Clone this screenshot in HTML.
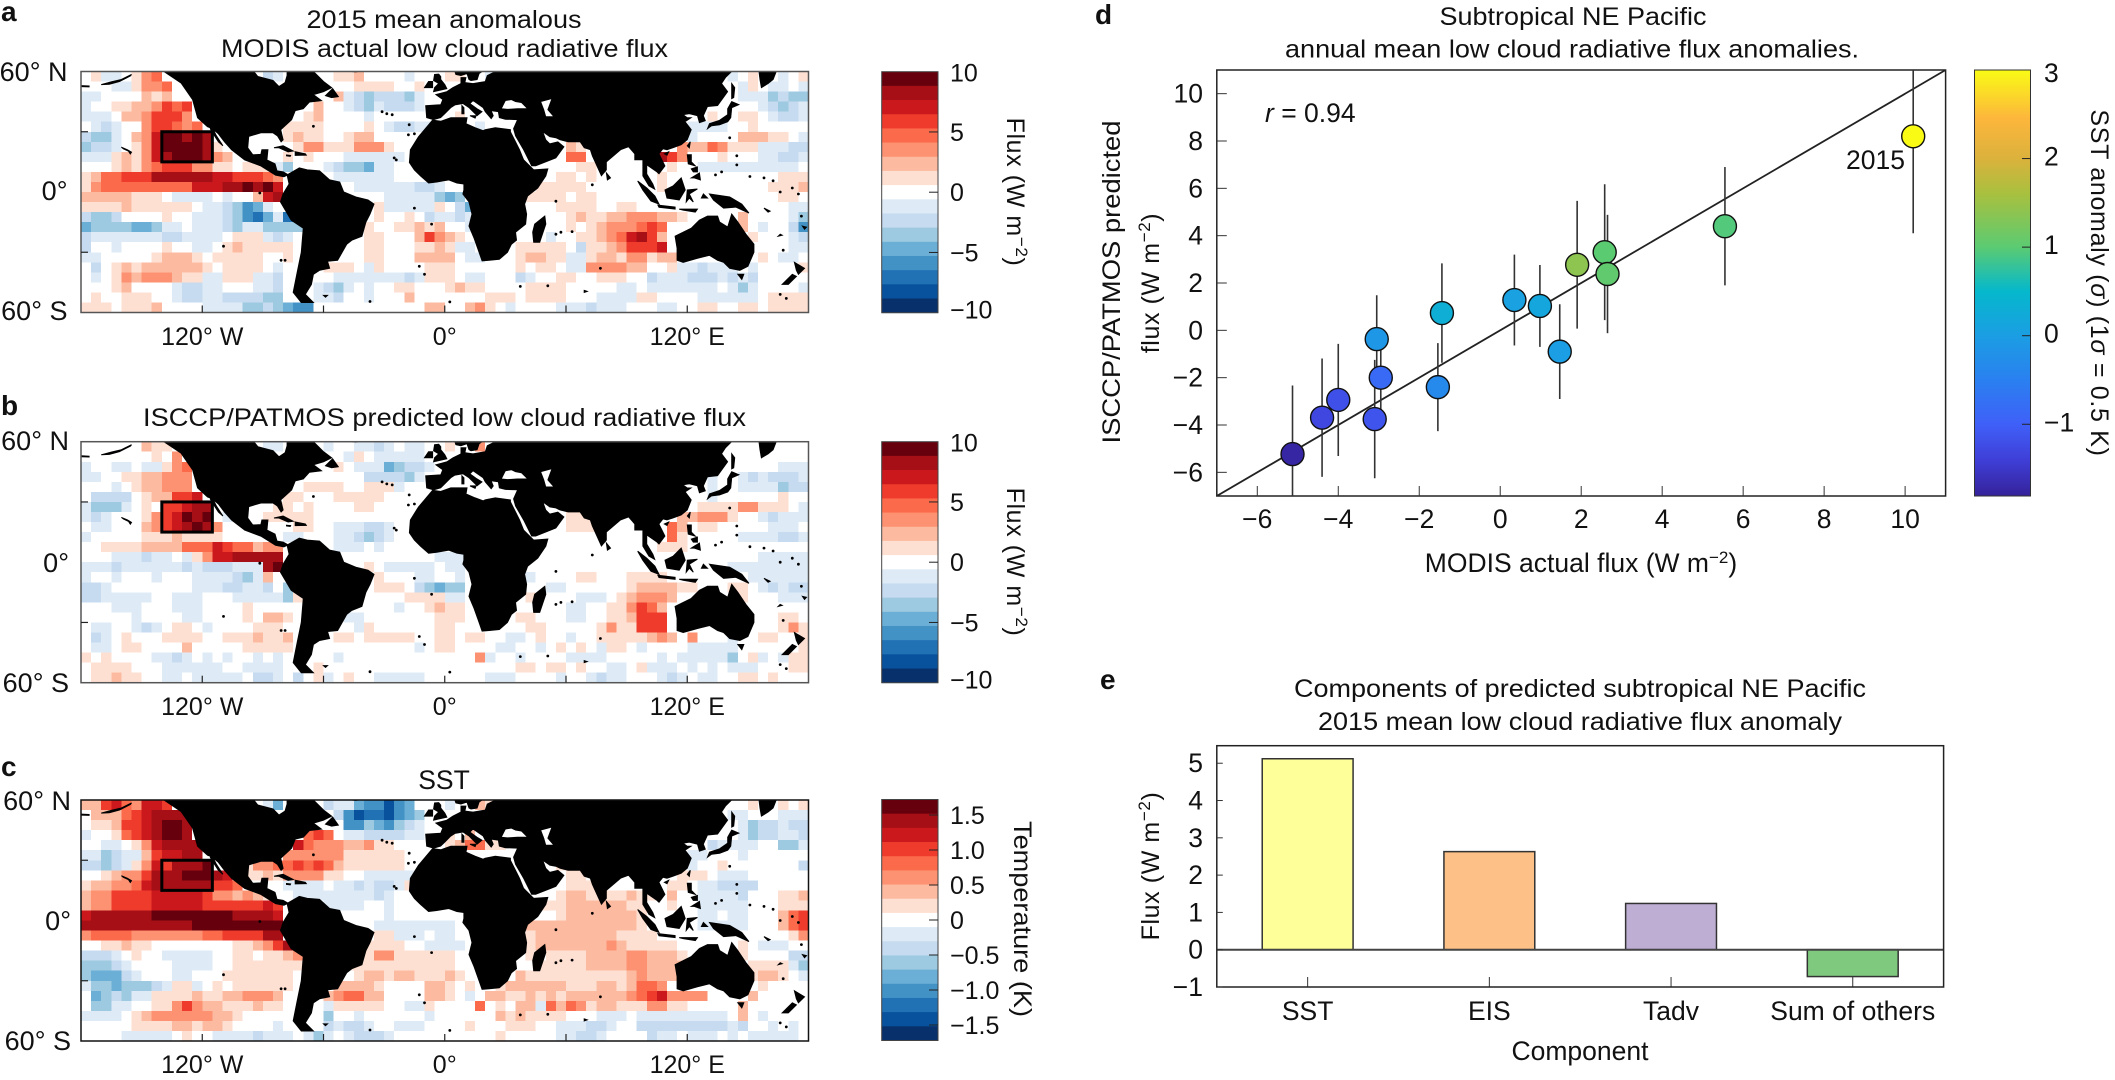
<!DOCTYPE html>
<html lang="en">
<head>
<meta charset="utf-8">
<title>Low cloud radiative flux anomalies</title>
<style>
html,body{margin:0;padding:0;background:#fff;width:2115px;height:1080px;overflow:hidden}
svg{display:block;font-family:"Liberation Sans",sans-serif;fill:#111}
text{font-size:25px}
text.big{font-size:26.5px}
text.lat{font-size:27px}
text.panel{font-weight:bold;font-size:28px}
</style>
</head>
<body>
<svg id="figure" width="2115" height="1080" viewBox="0 0 2115 1080" xmlns="http://www.w3.org/2000/svg">
<defs>
<clipPath id="clip-d"><rect x="1216.8" y="70" width="728.8" height="426"/></clipPath>
<clipPath id="clip-a"><rect x="81" y="71.5" width="727.5" height="241"/></clipPath>
<clipPath id="clip-b"><rect x="81" y="441.7" width="727.5" height="241"/></clipPath>
<clipPath id="clip-c"><rect x="81" y="800" width="727.5" height="241"/></clipPath>
<linearGradient id="parula-gradient" x1="0" y1="1" x2="0" y2="0"></linearGradient>
</defs>

<text class="panel" x="1" y="21">a</text>
<text class="panel" x="1" y="415">b</text>
<text class="panel" x="1" y="776">c</text>
<text class="panel" x="1095" y="24">d</text>
<text class="panel" x="1100" y="689">e</text>

<text x="444" y="28" text-anchor="middle" textLength="275" lengthAdjust="spacingAndGlyphs">2015 mean anomalous</text>
<text x="444.5" y="57" text-anchor="middle" textLength="447" lengthAdjust="spacingAndGlyphs">MODIS actual low cloud radiative flux</text>
<text x="444.5" y="426" text-anchor="middle" textLength="603" lengthAdjust="spacingAndGlyphs">ISCCP/PATMOS predicted low cloud radiative flux</text>
<text class="big" x="444" y="789" text-anchor="middle">SST</text>

<text transform="translate(1007,192) rotate(90)" text-anchor="middle" letter-spacing="0.6">Flux (W m<tspan dy="-9" font-size="17">−2</tspan><tspan dy="9">)</tspan></text>
<text transform="translate(1007,562) rotate(90)" text-anchor="middle" letter-spacing="0.6">Flux (W m<tspan dy="-9" font-size="17">−2</tspan><tspan dy="9">)</tspan></text>
<text transform="translate(1014,919) rotate(90)" text-anchor="middle" textLength="196" lengthAdjust="spacingAndGlyphs">Temperature (K)</text>

<text x="1573" y="25" text-anchor="middle" textLength="267" lengthAdjust="spacingAndGlyphs">Subtropical NE Pacific</text>
<text x="1572" y="57.5" text-anchor="middle" textLength="574" lengthAdjust="spacingAndGlyphs">annual mean low cloud radiative flux anomalies.</text>
<text transform="translate(1120,282) rotate(-90)" text-anchor="middle" textLength="323" lengthAdjust="spacingAndGlyphs">ISCCP/PATMOS predicted</text>
<text transform="translate(1159,283) rotate(-90)" text-anchor="middle" letter-spacing="0.6">flux (W m<tspan dy="-9" font-size="17">−2</tspan><tspan dy="9">)</tspan></text>
<text class="big" x="1581" y="572" text-anchor="middle">MODIS actual flux (W m<tspan dy="-9" font-size="17">−2</tspan><tspan dy="9">)</tspan></text>
<text class="big" x="1265" y="122"><tspan font-style="italic">r</tspan> = 0.94</text>
<text transform="translate(2091,283) rotate(90)" text-anchor="middle" letter-spacing="0.7">SST anomaly (<tspan font-style="italic">σ</tspan>) (1<tspan font-style="italic">σ</tspan> = 0.5 K)</text>

<text x="1580" y="697" text-anchor="middle" textLength="572" lengthAdjust="spacingAndGlyphs">Components of predicted subtropical NE Pacific</text>
<text x="1580" y="730" text-anchor="middle" textLength="524" lengthAdjust="spacingAndGlyphs">2015 mean low cloud radiative flux anomaly</text>
<text transform="translate(1159,866) rotate(-90)" text-anchor="middle" letter-spacing="0.6">Flux (W m<tspan dy="-9" font-size="17">−2</tspan><tspan dy="9">)</tspan></text>
<text class="big" x="1580" y="1060" text-anchor="middle">Component</text>
</svg>

<script>
// ---- Map cell values, as colour-band levels (-8 .. 8), 24 rows x 72 columns
const fluxActual = [
[0,1,-1,-1,0,1, 3,4,0,0,0,0, 0,0,0,0,0,0, -2,-1,0,0,0,0, 0,1,1,2,0,0, 0,0,-1,0,0,0, 1,1,0,0,-1,0, 0,0,0,0,0,0, 0,0,0,0,0,0, 0,0,0,0,0,0, 0,0,0,0,-1,0, 1,0,0,-1,0,1],
[0,0,0,-1,-1,1, 3,3,4,0,0,0, 0,0,0,0,0,0, 0,0,0,0,0,0, 0,0,0,1,1,1, 1,0,0,1,0,0, 0,0,0,0,0,0, 0,0,0,0,0,0, 0,0,0,0,0,0, 0,0,0,0,0,0, 0,0,0,0,0,-1, 1,0,-1,-1,0,-1],
[-1,-1,0,0,0,0, 2,1,2,0,0,0, 0,0,0,0,0,0, 0,0,0,0,0,0, 0,2,-1,-2,-3,-2, -2,-2,-3,-1,0,0, 0,0,0,0,0,0, 0,0,0,0,0,0, 0,0,0,0,0,0, 0,0,0,0,0,0, 0,0,0,0,0,-1, -1,-1,-3,-2,-3,-3],
[-1,0,0,1,1,2, 2,3,5,4,5,0, 0,0,0,0,0,0, 0,0,0,0,0,2, 0,0,-1,-2,-3,-1, -2,-2,-2,-1,0,0, 0,0,0,0,0,0, 0,0,0,0,0,0, 0,0,0,0,0,0, 0,0,0,0,0,0, 0,0,0,0,0,0, 0,-1,-2,-3,-2,-1],
[-1,-1,-1,0,2,2, 3,5,5,5,3,0, 0,0,0,0,0,0, 0,0,0,0,1,2, 0,0,0,0,-1,0, 0,0,0,0,0,0, 0,1,0,0,0,0, 0,0,0,0,0,0, 0,0,0,0,0,0, 0,0,0,0,0,0, 0,0,1,0,0,1, 1,0,-1,-2,-2,-1],
[0,-1,-2,-1,0,0, 3,5,5,4,3,4, 0,0,0,0,0,0, 0,0,1,1,1,1, 0,0,0,0,1,0, -1,-2,-2,-1,-1,0, 0,0,0,-1,0,0, 0,0,0,0,0,0, 0,0,0,0,0,0, 0,0,0,0,0,0, -1,-1,-1,-1,0,0, 1,0,0,0,0,0],
[-2,-3,-3,-1,0,2, 3,6,8,8,7,8, 7,0,0,0,0,0, 0,0,1,2,1,1, 0,0,1,2,2,0, 0,0,0,0,0,0, 0,0,0,0,0,0, 0,0,0,0,0,0, 0,0,0,0,0,0, 0,0,0,0,0,0, -1,0,0,0,0,2, 2,2,1,1,0,-1],
[-3,-2,-2,-1,0,1, 3,6,8,8,8,8, 7,1,0,0,0,0, 0,0,0,1,3,3, 1,1,1,3,3,3, 1,0,0,0,0,0, 0,0,0,0,0,0, 0,0,0,0,0,0, 2,1,0,0,0,0, 0,0,0,0,0,3, 2,2,4,3,1,1, 1,-1,-1,-1,-2,-2],
[-1,-1,-1,1,2,1, 3,6,7,8,8,8, 7,3,2,0,0,0, 0,0,1,0,1,0, 0,0,-1,-1,-1,-1, -1,-1,0,0,0,0, 0,0,0,0,0,0, 0,0,0,0,0,0, 4,4,0,0,0,0, 0,0,0,7,5,3, 0,0,0,1,0,0, 0,-1,-1,-2,-2,-1],
[0,0,0,1,2,1, 3,4,5,5,5,3, 3,1,1,0,1,1, 1,-1,-3,0,0,0, -1,-2,-3,-3,-4,-1, -1,0,0,0,0,0, 0,0,0,0,0,0, 0,0,0,0,0,0, 0,1,1,0,0,0, 0,0,0,0,1,0, 0,-1,-1,-1,-1,-1, -1,-1,-1,-1,-1,0],
[1,2,4,4,5,5, 5,7,7,7,7,7, 7,6,6,5,5,5, 4,3,0,0,0,0, 0,-1,-1,-1,-1,-1, -1,0,0,0,0,0, 0,0,0,0,0,0, 0,0,0,0,0,1, 1,0,1,0,0,0, 0,0,0,1,0,0, 0,0,0,0,0,0, 0,0,0,1,1,1],
[1,3,4,4,4,4, 4,4,4,4,4,6, 6,6,7,7,8,7, 8,6,0,0,0,0, 0,0,0,-1,-1,-1, -1,-1,-1,-2,-2,-1, 0,0,0,0,0,0, 0,0,0,1,1,1, 1,1,0,0,0,0, 0,0,0,1,0,0, 0,0,0,0,0,0, 0,0,1,1,1,2],
[2,2,2,2,2,1, 1,1,0,-1,-1,-1, -1,0,-1,0,0,2, 6,7,0,0,0,0, 0,0,0,0,0,0, -1,-1,-1,-1,-1,-3, -4,-3,0,0,0,0, 0,-1,1,1,1,1, 0,1,1,0,0,0, 0,0,0,0,0,0, 0,0,0,0,0,0, 0,0,0,1,1,0],
[1,1,1,1,2,1, 1,1,1,1,1,0, -1,-1,-2,-3,-5,-4, -1,0,0,0,0,0, 0,0,0,0,0,1, -1,-1,-1,-1,-1,1, 0,-2,-4,0,0,0, 0,0,0,0,0,1, 1,1,1,0,0,1, 1,0,0,0,0,0, 0,0,0,0,0,0, 0,0,0,0,-1,-1],
[-2,-3,-3,-2,0,0, 0,0,1,0,0,-1, -1,-1,-2,-3,-5,-6, -4,-1,-6,0,0,0, 0,0,0,0,0,1, 0,0,1,0,-2,-1, -1,-2,-1,0,0,0, 0,0,0,0,0,0, 1,2,1,1,2,2, 3,3,3,2,2,1, 0,0,0,0,0,2, 0,0,0,0,-1,-3],
[-4,-3,-3,-3,-3,-4, -4,-3,-1,-1,0,-1, -1,-1,-2,-3,-1,-1, -3,-3,-3,-3,0,0, 0,0,0,0,1,0, 0,1,1,2,1,2, 0,0,-1,0,0,0, 0,0,0,0,0,0, 1,0,1,2,3,3, 3,4,5,4,0,0, 0,0,0,0,0,2, 0,-1,0,0,-2,-5],
[-2,-1,-1,-1,-1,-1, -1,-1,-2,-2,-1,-1, -1,-1,0,1,1,1, -1,-2,-1,0,0,0, 0,0,0,0,1,1, 0,0,0,2,5,3, 2,1,0,0,0,0, 0,0,0,0,-1,0, 0,1,1,2,3,4, 6,7,5,2,0,0, 0,0,0,0,0,0, 1,0,0,0,-1,-2],
[-2,0,0,-1,0,0, 0,0,1,0,0,-1, -1,0,1,2,1,1, 1,1,1,0,0,0, 0,0,0,0,1,1, 0,0,0,1,1,2, 1,-1,-1,0,0,0, 0,1,1,1,1,1, 0,-2,1,1,2,3, 5,5,5,6,0,0, 0,0,0,0,0,0, 0,0,0,0,-1,-1],
[-1,-1,0,0,0,0, 0,1,2,2,2,1, 0,1,1,1,1,1, 0,0,1,0,0,0, 0,0,0,0,1,1, 0,0,0,2,2,2, 2,0,-1,-1,0,0, 0,1,2,2,1,1, -1,-1,1,2,2,1, 3,3,1,2,2,0, 0,0,0,0,0,0, 0,1,0,-1,-1,0],
[0,-2,0,1,2,1, 2,2,2,2,2,2, 1,0,1,1,1,1, 0,-1,0,0,0,0, 1,1,1,0,-1,1, 0,0,0,0,1,1, 1,0,0,0,0,0, 0,1,0,1,1,0, -1,-1,3,3,3,3, 2,2,0,0,1,-1, -1,-2,-1,-1,-1,0, -1,0,0,0,0,1],
[0,-1,0,1,3,2, 3,3,3,2,1,1, -1,-1,1,1,1,-1, -1,-2,0,0,0,0, 0,-1,-1,-1,-1,-1, -1,-1,-2,-1,1,1, 1,0,-1,-1,0,0, 0,-2,-1,0,0,1, 1,0,0,1,1,1, 0,0,-2,-1,-1,-1, -2,-2,-2,-1,-2,-1, -2,0,0,0,0,0],
[0,0,0,1,2,0, 0,0,0,-1,-2,-2, -1,-1,0,0,0,-1, -1,-2,0,0,0,-1, -2,-3,-1,0,-1,0, 0,1,1,0,0,0, 1,2,1,1,0,0, 0,0,1,1,1,1, 0,0,0,0,0,-1, -1,0,-1,-1,-1,-1, -1,-1,-1,0,-1,-3, -1,0,0,0,0,-1],
[0,1,0,0,1,1, 1,0,0,-1,-2,-2, -1,-1,-2,-2,-2,-2, -3,-3,0,0,0,-1, -1,-2,0,0,-1,0, 0,0,2,0,0,0, 0,0,0,0,1,1, 1,0,1,1,1,1, 0,0,0,-1,-1,-1, -1,1,1,0,0,0, 0,-1,-1,-1,-1,-1, -1,0,1,1,1,1],
[1,1,1,0,1,1, 1,2,0,0,0,0, -1,-1,-1,-1,-3,-3, -2,-3,-4,-5,-5,0, 0,0,0,0,0,0, 0,0,0,0,2,2, 0,0,2,3,1,0, -1,0,0,0,0,-1, -1,-1,-2,-1,-1,-1, 0,0,0,-1,-1,0, 0,1,1,0,0,1, 1,0,1,1,1,1]
];
const fluxPredicted = [
[0,0,0,0,0,0, 2,1,1,0,0,0, 0,0,0,0,0,0, -1,-1,0,0,0,0, -1,0,0,-1,-1,-2, -1,0,-1,-1,0,0, 1,0,0,3,0,0, 0,0,0,0,0,0, 0,0,0,0,0,0, 0,0,0,0,0,0, 0,0,0,0,0,0, 0,0,0,0,0,0],
[0,0,0,0,0,0, 0,1,0,3,0,0, 0,0,0,0,0,0, 0,0,0,0,0,0, 0,0,-1,1,0,-1, -1,-1,-1,-1,0,0, 0,0,0,0,0,0, 0,0,0,0,0,0, 0,0,0,0,0,0, 0,0,0,0,0,0, 0,0,0,0,0,0, 0,0,0,0,0,0],
[-1,0,0,-1,-1,0, -1,-1,1,3,4,0, 0,0,0,0,0,0, 0,0,0,0,0,0, 0,1,0,-1,-1,-1, -4,-3,-2,-2,-1,0, 0,0,0,0,0,0, 0,0,0,0,0,0, 0,0,0,0,0,0, 0,0,0,0,0,0, 0,0,0,0,0,0, 0,0,0,-1,-1,-1],
[-1,-1,0,0,1,1, 2,2,3,3,3,0, 0,0,0,0,0,0, 0,0,0,0,0,0, 0,0,0,0,-2,-2, -2,-2,-3,-1,0,0, 0,0,0,0,0,0, 0,0,0,0,0,0, 0,0,0,0,0,0, 0,0,0,0,0,0, 0,0,-1,0,0,-1, -2,-1,-2,-2,-2,-1],
[0,0,0,-1,0,1, 2,2,3,3,3,0, 0,0,0,0,0,0, 0,0,0,0,1,1, 1,1,0,0,1,1, 1,-1,0,0,0,0, 0,0,0,0,0,0, 0,0,0,0,0,0, 0,0,0,0,0,0, 0,0,0,0,0,0, 0,0,-1,0,0,-1, -1,-1,-1,-3,-2,-2],
[0,-2,-2,-2,-2,0, 1,2,2,5,5,6, 0,0,0,0,0,0, 0,0,1,1,0,0, 0,1,1,1,1,1, 0,0,0,0,0,0, 0,0,0,0,0,0, 0,0,0,0,0,0, 0,0,0,0,0,0, 0,0,0,0,0,0, 0,0,-1,0,0,0, 0,0,0,1,0,0],
[-1,-3,-3,-3,-1,0, 1,0,5,5,6,7, 7,0,0,0,0,0, 0,1,1,0,1,0, 0,0,0,1,1,0, 0,0,0,0,0,0, 0,0,0,0,0,0, 0,0,0,0,0,0, 0,0,0,0,0,0, 0,0,0,0,0,0, 0,1,1,1,1,3, 3,1,1,1,0,-1],
[-1,-2,-1,0,0,0, 1,3,5,6,8,7, 8,0,-1,0,0,0, 1,1,1,1,1,0, 0,0,0,0,0,0, 0,0,0,0,0,0, 0,0,0,0,0,0, 0,0,0,0,0,0, 1,1,1,0,0,0, 0,0,0,0,0,2, 2,3,3,3,1,0, 0,-1,-2,-1,-1,-1],
[0,-1,-1,0,0,0, 2,3,5,6,7,8, 7,3,0,0,0,0, 0,0,0,1,1,0, 0,-1,-1,-1,-2,-2, -1,0,0,0,0,0, 0,0,0,0,0,0, 0,0,0,0,0,0, 1,1,1,0,0,0, 0,0,0,0,4,2, 0,1,1,0,0,0, 0,0,-1,-1,-1,0],
[-1,0,0,0,0,0, 1,1,1,2,1,1, 1,1,0,0,0,0, 0,0,-1,-1,0,0, 0,-1,-1,-2,-3,-2, -1,0,0,0,0,0, 0,0,0,0,0,0, 0,0,0,0,0,0, 0,0,0,0,0,0, 0,0,0,0,4,1, 0,0,0,0,0,-1, -1,-1,-1,-2,-2,-1],
[0,0,1,1,1,1, 2,2,2,2,4,4, 4,6,5,4,4,2, 3,3,0,0,0,0, 0,-1,-1,-1,0,-1, 0,0,0,0,0,0, 0,0,0,0,0,0, 0,0,0,0,0,0, 0,0,0,0,0,0, 0,0,0,1,1,1, 0,0,0,0,0,0, 0,0,0,0,0,0],
[0,0,0,-1,-1,-1, -2,-1,-1,0,-1,1, 3,6,6,7,7,7, 7,7,0,0,0,0, 0,0,0,0,0,0, 0,0,0,0,0,-1, -1,-1,0,0,0,0, 0,0,0,0,0,0, 0,0,0,0,0,0, 0,0,0,0,0,0, 0,0,0,0,0,0, 0,-1,-1,-1,-1,-1],
[-1,-1,-1,-2,-1,-1, -1,-1,-1,-1,-2,-1, -2,-2,-2,-1,-1,-1, 7,8,0,0,0,0, 0,0,0,0,1,0, -1,-1,-1,-1,-1,0, -1,-1,0,0,0,0, 0,0,0,0,0,0, 0,0,0,0,0,0, 0,0,0,0,0,0, 0,0,0,0,-1,-1, -1,-1,-1,-1,-1,-1],
[-1,0,0,-1,0,0, 0,-1,0,0,0,-1, -1,-1,-1,-2,-3,-1, 2,0,0,0,0,0, 0,0,0,0,0,1, 0,0,0,-1,-1,0, 0,-1,0,0,0,0, 0,0,-1,0,0,0, 0,1,1,0,0,0, 1,1,1,1,0,0, 0,0,0,0,0,0, -1,-1,-1,-1,-1,-1],
[-2,-2,-1,0,0,0, 0,0,0,0,0,-1, -1,-1,-2,-2,-1,-1, -2,0,-3,0,0,0, 0,0,0,0,0,1, 1,1,0,-2,-3,-4, -3,-3,0,0,0,0, 0,0,0,0,-1,-1, 0,0,0,0,0,0, 1,2,2,2,2,1, 1,0,0,0,1,1, 0,-1,-2,-1,-2,-2],
[-2,-2,-1,-1,-1,-1, -1,0,0,-1,-1,-1, 0,0,0,-1,-1,-1, -1,-1,-3,1,0,0, 0,0,0,0,0,0, 0,0,1,1,1,1, -1,-1,0,0,0,0, 0,0,1,0,0,0, 0,-1,-1,-1,0,1, 2,3,3,3,2,0, 0,0,0,0,0,1, 0,0,0,-1,-1,-1],
[0,0,0,-1,-1,-1, 0,0,0,-1,-1,-1, 0,0,0,0,1,0, 0,0,0,0,0,0, 0,0,0,0,0,0, 0,-1,0,0,1,2, 1,1,0,0,0,0, 0,0,0,0,0,0, -1,-1,0,0,1,1, 3,5,4,2,0,0, 0,0,0,0,0,0, 0,0,0,0,0,0],
[0,0,0,0,0,-1, 0,0,0,0,-1,-1, 0,0,0,0,1,0, 2,2,1,0,0,0, 0,0,-1,-1,0,0, 0,0,0,0,0,1, 1,1,0,0,0,0, 0,1,1,0,0,0, -1,-1,0,0,1,1, 2,5,5,5,0,0, 0,0,0,0,0,0, 0,0,0,1,1,0],
[0,-1,-1,0,0,-1, -2,-1,0,1,1,0, -1,0,0,0,0,1, 1,1,0,0,0,0, 0,0,0,-1,1,0, 0,0,0,0,0,1, 1,0,0,0,0,0, 0,0,1,1,0,0, 0,0,0,1,3,1, 1,5,5,5,0,0, 0,0,0,0,0,0, 0,0,0,1,3,1],
[0,-2,-1,0,1,0, 0,0,1,1,1,1, 0,0,1,1,1,2, 1,1,2,0,0,0, 0,1,1,0,1,1, 1,1,1,0,0,1, 1,0,1,1,0,0, -1,-1,0,1,0,0, -1,0,0,1,1,1, 1,1,2,3,2,0, 3,0,0,0,-1,0, 0,1,1,0,0,1],
[0,-1,-1,0,1,1, 0,0,0,0,2,0, 0,0,0,0,1,1, 1,1,1,0,0,0, 0,0,0,0,0,0, 0,0,0,-1,0,1, 1,0,0,0,0,-1, -1,0,0,-1,0,1, 0,1,0,-1,1,1, 0,-1,0,0,0,0, -1,-1,-1,-1,-1,0, 0,0,0,0,0,1],
[1,0,1,0,0,0, 0,-1,-1,-2,-1,0, -1,0,-1,0,0,-1, 0,-1,0,0,0,0, 0,-1,0,0,0,0, 0,0,0,0,0,0, 0,0,0,3,-1,0, 0,-1,0,0,0,0, -1,-1,-1,-1,0,0, 0,0,0,-1,0,-1, -1,-1,-1,-1,-3,0, 1,-1,0,-1,1,1],
[0,1,1,1,1,0, 0,0,-1,-1,-1,-1, -1,-1,0,0,-1,-1, -1,-1,0,0,0,1, 0,0,0,0,0,0, 0,0,0,0,0,0, 0,0,0,0,0,0, 0,1,1,0,1,1, 0,1,0,0,-1,-1, 0,1,-1,-1,-1,0, -1,0,-1,0,-1,-1, -1,0,0,0,1,1],
[0,1,1,2,1,1, 0,0,-1,-1,0,-1, -1,-1,-1,-1,0,-2, -2,-1,0,-2,0,1, -1,0,1,0,0,-1, -1,-1,-1,-1,0,0, 0,0,0,0,-1,-1, -1,0,0,0,0,-1, 0,0,-1,-2,-1,-1, 0,0,0,-1,-2,-1, 0,-1,-1,0,0,1, 1,0,1,0,0,0]
];
const sstAnomaly = [
[2,2,5,6,4,3, 6,6,5,0,0,0, 0,0,0,0,0,0, -1,-4,0,0,0,0, -2,-1,-1,-4,-5,-5, -7,-5,-4,0,0,0, -1,0,0,2,1,0, 0,0,0,0,0,0, 0,0,0,0,0,0, 0,0,0,0,0,0, 0,0,0,0,0,0, 1,0,0,1,0,1],
[0,2,2,2,4,5, 6,7,7,7,7,0, 0,0,0,0,0,0, 0,0,0,0,0,0, 0,-2,-5,-7,-6,-6, -7,-5,-4,-3,0,0, 0,0,0,0,0,0, 0,0,0,0,0,0, 0,0,0,0,0,0, 0,0,0,0,0,0, 0,0,0,0,-1,-1, 0,0,0,-1,-1,-1],
[0,1,1,2,5,5, 6,7,8,8,7,0, 0,0,0,0,0,0, 0,0,0,0,0,0, 0,0,-5,-5,-3,-4, -5,-3,-2,-1,0,0, 0,0,0,0,0,0, 0,0,0,0,0,0, 0,0,0,0,0,0, 0,0,0,0,0,0, 0,0,0,0,0,-1, -3,-2,-2,-1,-2,-2],
[-1,0,0,1,4,5, 6,7,8,8,7,0, 0,0,0,0,0,0, 0,0,0,0,4,5, 4,0,-1,-1,-2,-2, -2,-2,-1,-1,0,0, 1,0,2,0,0,0, 0,0,0,0,0,0, 0,0,0,0,0,0, 0,0,0,0,0,0, 0,0,0,0,0,-1, -3,-2,-2,-1,-1,-2],
[0,0,-1,-1,0,1, 3,6,7,7,7,7, 0,0,0,0,0,0, 0,0,0,6,4,3, 3,3,2,2,3,1, 1,0,0,0,0,0, 1,2,4,4,1,1, 0,0,0,0,0,0, 0,0,0,0,0,0, 0,0,0,0,0,0, 0,0,-2,-1,-1,-1, -1,0,0,-3,-3,-1],
[-1,-1,-3,-2,-1,-1, 2,5,6,6,7,7, 0,0,0,0,0,0, 0,0,3,3,3,3, 3,3,1,1,1,1, 1,1,0,0,0,0, 0,0,0,0,0,0, 0,0,1,0,0,0, 0,0,0,0,0,0, 0,0,0,0,0,0, -1,-1,0,0,0,-1, 0,0,0,0,0,0],
[-2,-2,-3,-2,-1,1, 3,6,5,7,7,7, 8,0,0,0,1,3, 3,4,4,5,4,5, 4,2,1,1,1,1, 1,1,0,0,0,0, 0,0,0,0,0,0, 0,0,0,0,0,1, 0,0,0,0,0,0, 0,0,0,0,0,0, -1,0,0,1,0,0, 0,0,0,0,0,-2],
[0,0,1,2,3,3, 5,7,7,7,8,8, 8,7,6,0,1,1, 2,1,3,3,3,3, 1,1,0,0,-1,-1, -1,-1,-1,0,0,0, 0,0,0,0,0,0, 0,0,0,0,0,0, 1,1,0,0,0,0, 0,0,0,0,0,1, 1,1,0,-1,-1,-1, 0,0,0,0,0,0],
[1,2,2,3,3,4, 6,7,7,7,7,7, 7,5,5,4,0,0, 0,0,-1,-1,-1,-1, 0,-1,-1,-2,-1,-2, -2,-1,1,0,0,0, 0,0,0,0,0,0, 0,0,0,0,0,0, 1,1,1,1,0,0, 0,0,0,0,1,1, 0,-1,-1,-2,-2,-2, -2,0,0,0,0,0],
[2,3,3,5,5,5, 5,6,6,6,6,6, 5,3,3,2,3,2, 1,0,0,-1,-1,-1, -1,-1,-1,-1,-1,-2, -1,0,0,0,0,0, 0,0,0,0,0,0, 0,0,0,0,0,1, 2,2,1,1,1,1, 2,1,1,0,2,0, 0,-1,-1,-1,-1,-2, 0,0,0,1,1,2],
[2,3,3,5,5,5, 5,6,6,6,6,6, 5,5,5,5,5,5, 6,5,0,0,0,0, -1,-1,-1,-1,0,0, -1,0,0,0,0,0, 0,0,0,0,0,0, 0,0,0,1,1,1, 2,2,2,2,2,2, 1,1,0,0,1,0, 0,-1,-1,-1,-1,-1, 0,0,0,1,1,1],
[6,7,7,7,7,7, 7,8,8,8,8,8, 8,8,8,7,7,7, 7,6,0,0,0,0, 0,0,0,0,0,0, -1,0,0,0,0,0, 0,0,0,0,0,0, 0,0,0,0,0,1, 2,2,2,2,2,2, 2,1,0,0,0,0, 0,-1,-1,0,-1,-1, 0,0,0,2,4,5],
[7,7,7,7,7,7, 7,7,7,7,7,8, 8,8,8,8,8,8, 8,8,0,0,0,0, 0,0,0,0,0,-1, -1,-1,-1,-1,-1,-1, -1,0,0,0,0,0, 0,0,2,2,2,2, 2,2,2,2,2,2, 2,1,0,0,0,0, 0,-1,-1,-1,-1,-1, 0,0,0,2,4,5],
[3,4,4,4,4,3, 3,3,3,3,3,3, 4,4,5,5,5,5, 7,7,0,0,0,0, 0,0,0,0,0,1, 1,-1,-1,-1,0,-1, -1,0,0,0,0,0, 0,0,1,2,2,2, 2,2,2,2,2,1, 1,1,1,0,0,0, 0,0,0,0,0,0, 0,0,0,0,1,3],
[0,0,1,1,2,1, 1,0,0,0,0,0, 0,0,0,1,1,2, 3,5,7,0,0,0, 0,0,0,0,1,1, 1,1,0,0,-1,-1, -1,-1,0,0,0,0, 0,0,1,2,2,2, 2,2,2,2,3,2, 1,1,1,1,1,0, 0,0,0,0,0,1, 0,-1,-1,-1,0,0],
[-2,-2,-2,-1,0,1, 0,0,-1,-1,-1,-1, -1,0,0,1,1,0, 1,1,2,3,0,0, 0,0,0,0,1,3, 3,1,1,1,1,1, 1,0,0,0,0,0, 0,0,1,0,1,1, 1,1,2,2,2,2, 3,3,2,2,2,1, 0,0,0,0,0,1, 0,0,0,0,-2,-2],
[-3,-3,-3,-2,-1,0, 0,0,0,-1,-1,-1, -1,0,0,1,1,1, 1,1,1,1,0,0, 0,0,1,1,1,1, 1,1,1,1,1,1, 1,0,0,0,0,0, 0,0,0,1,1,1, 1,1,2,2,2,2, 3,3,2,2,2,2, 0,0,0,0,0,0, 1,1,1,1,-1,-3],
[-3,-4,-4,-4,-2,-1, 0,0,0,-1,-1,0, 0,0,1,1,1,1, 1,1,1,0,0,0, 0,0,0,1,2,2, 1,2,2,1,1,1, 2,1,0,0,0,0, 0,2,1,1,1,1, 1,1,1,1,1,1, 2,3,2,2,2,1, 0,0,0,0,0,0, 1,2,2,1,0,-1],
[-1,-3,-3,-4,-3,-3, -3,-2,-1,1,1,-1, 0,1,0,1,1,1, 1,1,1,0,0,0, 0,2,2,2,2,1, 0,0,0,0,2,2, 1,0,1,0,0,1, 2,2,2,2,2,2, 1,1,1,2,2,1, 2,4,4,3,0,0, 0,0,0,0,0,0, 0,1,0,0,0,0],
[0,-4,-3,-2,-3,-1, -1,1,1,1,1,2, 1,1,2,2,3,3, 3,2,0,0,0,0, 2,3,4,4,2,2, 0,0,0,0,2,2, 1,0,-1,0,2,2, 1,1,2,1,2,1, 2,2,2,2,2,2, 3,4,5,6,3,3, 3,3,0,0,0,0, 2,0,0,0,0,0],
[0,-3,-3,-1,-1,0, 0,1,1,3,5,3, 2,2,1,1,1,2, 1,1,0,0,0,0, -1,1,1,1,1,1, 0,0,-1,-1,1,0, 0,0,0,4,0,1, 0,2,2,-1,4,2, 4,3,1,2,2,1, 1,1,3,3,1,1, 0,0,0,0,0,2, 0,0,0,0,0,0],
[-1,-1,-1,-1,0,1, 2,3,3,3,3,3, 3,2,2,1,0,0, 0,0,0,0,0,0, -3,0,0,-1,0,0, 0,0,0,0,-1,0, 0,0,0,0,0,2, 1,2,1,1,1,1, 0,0,0,-1,-1,-1, 0,-1,-1,-1,-1,-1, -1,-1,-1,-1,0,2, 0,-1,0,0,0,0],
[0,0,0,0,0,1, 1,1,1,2,2,1, 2,2,1,0,0,0, 0,-1,0,0,0,0, -2,-1,-2,-2,-1,0, 0,-1,-1,-1,0,0, 0,0,1,0,0,0, 1,1,1,0,0,-1, -1,-1,-2,-2,-1,0, 0,-2,-2,-2,-2,-2, -2,-2,-2,-2,-1,-2, 0,0,-1,0,-1,0],
[0,0,0,0,-1,-1, -1,-1,-1,0,1,0, 0,-1,-1,-1,-1,-2, -1,-1,-1,0,-1,-3, -1,0,-1,-2,-2,-2, -1,0,0,0,0,0, 0,0,0,0,0,1, 0,0,0,0,0,-1, -1,-2,-2,-1,0,0, 0,0,-2,-1,-1,0, -1,-1,-1,0,-1,0, -1,-1,-1,-1,-1,0]
];

// ---- Colour bands for the maps (blue to red)
const bandColors = ["#08306b","#08519c","#2171b5","#4292c6","#6baed6","#9ecae1","#c6dbef","#deebf7","#ffffff","#fee0d2","#fcbba1","#fc9272","#fb6a4a","#ef3b2c","#cb181d","#a50f15","#67000d"];
const fluxBarTicks = [10,5,0,-5,-10];
const tempBarTicks = [1.5,1,0.5,0,-0.5,-1,-1.5];
const lonTickValues = [-120,-60,0,60,120];
const lonTickLabels = ["120° W","","0°","","120° E"];
const latTickValues = [60,30,0,-30,-60];
const latTickLabels = ["60° N","","0°","","60° S"];
const regionBox = [-140,-115,15,30];

// ---- Geography, in degrees
const landOutlines = [
 [[-139,60],[-130.5,54.3],[-124.8,46],[-122.3,37],[-117.4,32.5],[-114.8,31.5],[-113,28],[-109.8,23],[-112,25],[-114.6,29],[-116,31.5],[-115.5,32],[-112,29],[-109,25],[-105.5,21],[-99,16],[-91,13],[-83.7,8.4],[-79.6,7.6],[-77.5,8.6],[-80,10],[-83,10.5],[-84,14],[-88,16],[-87.5,21],[-90.5,21],[-91,18.7],[-95,18.5],[-97.5,22],[-97,27.7],[-91,29.5],[-85,29.5],[-82.8,28],[-81,25],[-80,26],[-81.2,31],[-75.8,36],[-74,40.5],[-70,41.5],[-67,44.8],[-61,45.5],[-65,48.5],[-60,50],[-56,52],[-60,55],[-65,60],[-78,60],[-78,58],[-79,54.5],[-82,52.5],[-85,55.5],[-92.5,57.5],[-94.5,60]],
 [[-55.5,51.5],[-52.7,47.5],[-56,47],[-59,48]],
 [[-43,60],[-46,60],[-44,59.8]],
 [[-84.5,22],[-80,23],[-75,20.4],[-77.5,20],[-82,22]],
 [[-74,20],[-69,19],[-68.5,18.3],[-74,18.2]],
 [[-78.3,18.4],[-76.3,18.2],[-76.5,17.8],[-78.3,18]],
 [[-78,8.5],[-72,12],[-68,11],[-62,10.5],[-57,6],[-52,5],[-50,0],[-44,-2.5],[-38,-4],[-35,-6],[-37,-11],[-39,-15],[-41,-22],[-46,-24],[-48.5,-26],[-53,-34],[-58,-34.5],[-57,-38],[-62,-39],[-65,-41],[-66,-46],[-69,-51],[-65,-55],[-71,-55],[-75,-50],[-73,-40],[-71,-30],[-70,-18],[-76,-14],[-81.3,-5],[-80,-1],[-77,4]],
 [[-6,35.8],[-10,31],[-13,27.5],[-17,21],[-17.5,14.7],[-15,11],[-12,8],[-8,4.5],[-4,5],[2,6],[6,4.5],[9.5,4],[9.5,1],[9,-1],[12,-5],[13.5,-11],[12,-17],[14.5,-23],[17,-30],[18.5,-34.3],[22,-34],[27,-33.5],[31,-30],[33,-26],[35.5,-24],[35,-20],[40,-16],[40.5,-11],[39.5,-6],[41,-2],[46,2],[50,8],[51,11.5],[44,11],[43,12],[39,16],[37,21],[35,25],[32.5,30],[32.5,31],[25,32],[20,31],[19,30.5],[15,32],[10.5,34],[11,37],[3,37],[-2,35.2]],
 [[49.5,-12],[50,-16],[47,-25],[44,-25],[43.5,-20],[44.5,-16]],
 [[5,60],[5.5,58.5],[8,58],[11,59],[12,56],[13,55.5],[16,56],[17,59],[18.5,60]],
 [[-5.5,50],[1,51.5],[0,53.5],[-2,56],[-2,57.5],[-3,58.7],[-5,58.5],[-5.5,55.5],[-3,54],[-5,52]],
 [[-10,52],[-6,52],[-6,55],[-8,55]],
 [[8.5,43],[9.5,42],[9.5,39],[8.5,39]],
 [[12.5,38],[15.5,38],[15,36.8]],
 [[130,31.5],[131,34],[136,35.7],[140,38.5],[140,41.5],[142,45],[145.5,43.5],[142,42],[141.5,37],[140,35],[136,33.5],[132,33]],
 [[142,54],[143.5,52],[143,47],[142,46.5],[142,50]],
 [[155.5,60],[156,56],[156.7,52],[160,54],[162.5,56],[164,60]],
 [[95.5,5.5],[100,2],[104,-2],[106,-6],[102,-4.5],[98,1]],
 [[105.5,-6.5],[114,-7.5],[114,-8.5],[106,-7.6]],
 [[109,1],[113,3],[117,7],[119,1],[116,-4],[110,-3]],
 [[119.5,-5],[120,1],[125,1.5],[121,-1],[123,-5],[121,-3]],
 [[131,-1],[141,-2.5],[147,-6],[150.5,-10.5],[144,-7.5],[138,-8],[133,-4]],
 [[120,18.5],[122,18.5],[122,15],[124,13],[120.5,14]],
 [[122,7],[126,9.5],[126.5,6],[123.5,7]],
 [[122,11.5],[125,12.5],[125,10],[123,10]],
 [[120,23],[121.5,25],[121,22]],
 [[108.7,19],[110.8,20],[110,18.3]],
 [[80,9.5],[82,7],[80.5,6]],
 [[116,-8.5],[125,-8.5],[124,-10],[118,-9]],
 [[127,-3],[130,-3],[128,-1]],
 [[114,-22],[122,-18],[126,-14],[130,-12],[135,-12],[136,-15],[140,-17.5],[142,-11],[145,-15],[149,-21],[153,-26],[153,-30],[150,-37],[146,-39],[141,-38],[138,-35],[135,-34],[131,-31.5],[125,-33],[118,-35],[115,-34],[115,-28]],
 [[145,-41],[148,-41],[147,-43.5]],
 [[173,-35],[178,-38],[175,-41],[174,-39]],
 [[172,-41],[174,-42],[170,-46],[167,-46]],
 [[-180,53],[-176,52.8],[-176,52.4],[-180,52.5]],
 [[-170,53.5],[-165,54.8],[-160,56],[-155,58.5],[-155.5,57.8],[-161,55],[-166,53.7]],
 [[-160,22.3],[-157,21],[-155,19.8],[-155.6,18.9],[-156.5,20.3],[-159,21.5]],
 [[-60,-51.5],[-58,-51.5],[-59,-52.4]],
 [[69,-49],[70.5,-49.5],[69,-50]],
 [[177,-17],[179,-17.5],[178,-18.5]],
 [[166,-21],[167,-21.5],[165,-22]],
 [[158,-8],[161,-9.5],[160,-10]]
];
const eurasiaOutline = [[34,31.5],[36,36],[30,36.2],[27,37],[26.5,40],[23,40.5],[24,38],[23,36.5],[20,40],[19,42],[14,45.5],[12.5,44],[16,41.5],[18.5,40],[16,38],[12,42],[9,44],[5,43.3],[3,42],[0,39],[-2,37],[-5.5,36],[-9,37],[-9.5,43],[-2,43.5],[-1,46],[-4.5,48.5],[1,50],[4,52],[8,54],[8,57],[10.5,57],[10,54.5],[14,54],[20,55],[21,58],[24,59.5],[28,60],[142,60],[139,57],[137,54],[140,50],[135,43],[130,42.5],[128,38],[129,35.5],[126,34.5],[125,38],[121,39],[118,38.5],[120,37],[122,37],[119,35],[122,31],[120,26],[117,23.5],[113,22],[110,21],[108,21.5],[106,19],[109,13],[106,9],[105,10],[100,13.5],[100,9],[103,4],[104,1.3],[101,3],[98,8],[98,16],[94,16],[94,19],[91,22.5],[87,21],[80,15],[80,11],[77.5,8],[73,18],[72,21],[69,22],[67,25],[61,25],[57,26],[55,27],[52,27.5],[48.5,30],[50,26],[52,24],[56,25],[59,22.5],[55,17],[45,13],[43,13],[39,21],[35,28],[34,31.5]];
const inlandSeas = [
 [[28,41.5],[31,41.2],[36,41.5],[41,41.5],[38,44.5],[35,45],[33,46],[30,45.5]],
 [[47.5,45],[53,46.5],[51,41],[54,37.5],[50,37.5],[49,41]],
 [[-88,46],[-84,46.5],[-80,44],[-82,42.5],[-86,43]]
];
const smallIslands = [[-65,32.7],[-31,40],[-28.7,39],[-26,38.5],[-17.6,33.5],[-18,28.5],[-15,29],[-25,17],[-24,16],[-15,-8],[-6.5,-16],[-91.5,-0.5],[-109.5,-27],[-81,-34],[-79,-34],[-12.6,-37],[-10,-41],[-37,-54.5],[55,-4.6],[55,-21],[57.5,-20],[63,-19.7],[73,3.6],[37.4,-47],[51,-46.7],[77,-38],[2.5,-54.7],[166,0],[172,2],[175,-1],[151,7.7],[158,7],[162.5,5.6],[176.5,-12],[167.5,-29],[166,-51],[169,-53],[141,27],[144.5,18],[144.5,13.5],[134,8.5],[137,10]];

// ---- Scatter (panel d) values
const scatterYears = ["2015","y2","y3","y4","y5","y6","y7","y8","y9","y10","y11","y12","y13","y14","y15","y16"];
const modisFlux = [10.2,5.55,2.58,2.65,1.9,0.35,0.98,1.47,-1.44,-1.54,-3.05,-2.95,-4,-4.4,-3.1,-5.13];
const predictedFlux = [8.2,4.4,3.3,2.38,2.77,1.28,1.03,-0.9,0.73,-2.4,-0.37,-2,-2.94,-3.69,-3.75,-5.23];
const predictedError = [4.1,2.5,2.87,2.5,2.7,1.92,1.73,2,2.1,1.86,1.85,1.5,2.37,2.5,2.5,2.9];
const sstSigma = [3,0.95,1,1.05,1.4,0.05,0.15,0,0.3,-0.35,-0.1,-0.85,-1.2,-1.3,-1.15,-1.75];
const scatterTicks = [-6,-4,-2,0,2,4,6,8,10];
const sstBarTicks = [3,2,1,0,-1];
const sstStopValues = [-1.81,-1.4,-1,-0.5,0,0.5,1,1.6,2,2.45,3];
const sstStopColors = ["#35229a","#3f3fd8","#3f60f8","#2a80f0","#1b9ee3","#05b8cc","#5bcb72","#a8c03f","#dbb23c","#fdb63c","#f9fb15"];
const fitLine = [-7,11];

// ---- Bar chart (panel e) values
const barCategories = ["SST","EIS","Tadv","Sum of others"];
const barValues = [5.12,2.63,1.24,-0.72];
const barColors = ["#ffff99","#fdc086","#beaed4","#7fc97f"];
const barTicks = [5,4,3,2,1,0,-1];

const NS = "http://www.w3.org/2000/svg";
const svg = document.getElementById("figure");
function make(tag, attrs, parent) {
  const e = document.createElementNS(NS, tag);
  for (const k in attrs) e.setAttribute(k, attrs[k]);
  (parent || svg).appendChild(e);
  return e;
}
function minus(v, digits) {
  const s = digits ? Math.abs(v).toFixed(digits) : String(Math.abs(v));
  return (v < 0 ? "−" : "") + s;
}
function ring(points, lonX, latY) {
  return "M" + points.map(p => lonX(p[0]).toFixed(1) + " " + latY(p[1]).toFixed(1)).join("L") + "Z";
}
function bandColor(v) {
  const i = Math.max(-8, Math.min(8, Math.round(v))) + 8;
  return bandColors[i];
}

function drawMap(id, values, top, labelRight, xLabelY, latBaselines, frameColor) {
  const left = 81, width = 727.5, height = 241, cols = 72, rows = 24;
  const lonX = lon => left + (lon + 180) / 360 * width;
  const latY = lat => top + (60 - lat) / 120 * height;
  const group = make("g", {"clip-path": "url(#clip-" + id + ")"});
  
  
  values.forEach((row, r) => row.forEach((v, c) => {
    const cell = make("rect", {
      x: lonX(-180 + c * 5).toFixed(2), y: latY(60 - r * 5).toFixed(2),
      width: (width / cols + 0.4).toFixed(2), height: (height / rows + 0.4).toFixed(2),
      fill: bandColor(v), "shape-rendering": "crispEdges"
    }, group);
    
    
  }));
  let d = "";
  landOutlines.forEach(o => { d += ring(o, lonX, latY); });
  const land = make("path", {d: d, fill: "#000", stroke: "#000", "stroke-width": "1"}, group);
  
  
  let e = ring(eurasiaOutline, lonX, latY);
  inlandSeas.forEach(o => { e += ring(o, lonX, latY); });
  const eurasia = make("path", {d: e, fill: "#000", "fill-rule": "evenodd", stroke: "#000", "stroke-width": "0.8"}, group);
  
  
  smallIslands.forEach(p => {
    const dot = make("circle", {cx: lonX(p[0]).toFixed(1), cy: latY(p[1]).toFixed(1), r: 1.4, fill: "#000"}, group);
    
    
  });
  const box = make("rect", {
    x: lonX(regionBox[0]), y: latY(regionBox[3]),
    width: lonX(regionBox[1]) - lonX(regionBox[0]), height: latY(regionBox[2]) - latY(regionBox[3]),
    fill: "none", stroke: "#000", "stroke-width": 3
  }, group);
  
  
  const frame = make("rect", {x: left, y: top, width: width, height: height, fill: "none", stroke: frameColor, "stroke-width": 1.5});
  
  
  lonTickValues.forEach((lon, i) => {
    const tick = make("line", {x1: lonX(lon), x2: lonX(lon), y1: top + height, y2: top + height - 7, stroke: "#222", "stroke-width": 1.2});
    
    
    if (lonTickLabels[i]) {
      const t = make("text", {x: lonX(lon), y: xLabelY, "text-anchor": "middle"});
      t.textContent = lonTickLabels[i];
      
      
    }
  });
  latTickValues.forEach((lat, i) => {
    if (Math.abs(lat) === 30) {
      const tick = make("line", {x1: left, x2: left + 7, y1: latY(lat), y2: latY(lat), stroke: "#222", "stroke-width": 1.2});
      
      
    }
    if (latTickLabels[i]) {
      const t = make("text", {class: "lat", x: labelRight, y: latBaselines[i], "text-anchor": "end"});
      t.textContent = latTickLabels[i];
      
      
    }
  });
}
function drawBandBar(id, top, height, range, ticks, digits, pxPerUnit) {
  const left = 881.7, width = 56.3;
  const mid = top + height / 2;
  const barY = v => mid - v * pxPerUnit;
  const bandH = height / bandColors.length;
  bandColors.slice().reverse().forEach((c, i) => {
    const band = make("rect", {x: left, y: (top + i * bandH).toFixed(2), width: width, height: (bandH + 0.4).toFixed(2), fill: c});
    
    
  });
  const frame = make("rect", {x: left, y: top, width: width, height: height, fill: "none", stroke: "#444", "stroke-width": 1});
  
  
  ticks.forEach(v => {
    const y = barY(v);
    if (Math.abs(v) < range) {
      const tick = make("line", {x1: left + width - 9, x2: left + width, y1: y, y2: y, stroke: "#222", "stroke-width": 1});
      
      
    }
    const t = make("text", {x: 950, y: Math.min(Math.max(y + 9, top + 10), top + height + 6)});
    t.textContent = v === 0 ? "0" : minus(v, digits);
    
    
  });
}

drawMap("a", fluxActual, 71.5, 67.5, 345, [81, 0, 200, 0, 320], "#555");
drawMap("b", fluxPredicted, 441.7, 69, 715, [450, 0, 572, 0, 692], "#555");
drawMap("c", sstAnomaly, 800, 71, 1073, [810, 0, 930, 0, 1050], "#111");
drawBandBar("a", 71.7, 241, 10, fluxBarTicks, 0, 12.05);
drawBandBar("b", 441.7, 241, 10, fluxBarTicks, 0, 12.05);
drawBandBar("c", 799.5, 241, 1.72, tempBarTicks, 1, 70);

// ---- Panel d
(function () {
  const left = 1216.8, right = 1945.6, top = 70, bottom = 496;
  const x = v => left + (v + 7) / 18 * (right - left);
  const y = v => bottom - (v + 7) / 18 * (bottom - top);
  const barTop = 70, barBottom = 496, sstMin = -1.81, sstMax = 3;
  const sstY = v => barBottom - (v - sstMin) / (sstMax - sstMin) * (barBottom - barTop);
  const mix = (a, b, f) => Math.round(a + (b - a) * f);
  function sstColor(v) {
    const c = Math.max(sstMin, Math.min(sstMax, v));
    let i = 0;
    while (i < sstStopValues.length - 2 && c > sstStopValues[i + 1]) i++;
    const f = (c - sstStopValues[i]) / (sstStopValues[i + 1] - sstStopValues[i]);
    const hex = s => [1, 3, 5].map(n => parseInt(s.substr(n, 2), 16));
    const a = hex(sstStopColors[i]), b = hex(sstStopColors[i + 1]);
    return "rgb(" + mix(a[0], b[0], f) + "," + mix(a[1], b[1], f) + "," + mix(a[2], b[2], f) + ")";
  }
  const grad = document.getElementById("parula-gradient");
  sstStopValues.forEach((v, i) => make("stop", {offset: (v - sstMin) / (sstMax - sstMin), "stop-color": sstStopColors[i]}, grad));

  const frame = make("rect", {x: left, y: top, width: right - left, height: bottom - top, fill: "none", stroke: "#222", "stroke-width": 1.5});
  
  
  scatterTicks.forEach(v => {
    const tx = make("line", {x1: x(v), x2: x(v), y1: bottom, y2: bottom - 10, stroke: "#333", "stroke-width": 1});
    
    
    const lx = make("text", {class: "big", x: x(v), y: 528, "text-anchor": "middle"});
    lx.textContent = minus(v);
    
    
    const ty = make("line", {x1: left, x2: left + 10, y1: y(v), y2: y(v), stroke: "#333", "stroke-width": 1});
    
    
    const ly = make("text", {class: "big", x: 1203, y: y(v) + 9, "text-anchor": "end"});
    ly.textContent = minus(v);
    
    
  });
  const plot = make("g", {"clip-path": "url(#clip-d)"});
  
  
  const fit = make("line", {x1: x(fitLine[0]), y1: y(fitLine[0]), x2: x(fitLine[1]), y2: y(fitLine[1]), stroke: "#222", "stroke-width": 1.8}, plot);
  
  
  modisFlux.forEach((m, i) => {
    const err = make("line", {x1: x(m), x2: x(m), y1: y(predictedFlux[i] + predictedError[i]), y2: y(predictedFlux[i] - predictedError[i]), stroke: "#333", "stroke-width": 1.6}, plot);
    
    
  });
  modisFlux.forEach((m, i) => {
    const pt = make("circle", {cx: x(m), cy: y(predictedFlux[i]), r: 11.5, fill: sstColor(sstSigma[i]), stroke: "#111", "stroke-width": 1.4}, plot);
    
    
  });
  const yearLabel = make("text", {class: "big", x: 1846, y: 169});
  yearLabel.textContent = scatterYears[0];
  
  

  const bar = make("rect", {x: 1974.5, y: barTop, width: 56, height: barBottom - barTop, fill: "url(#parula-gradient)", stroke: "#333", "stroke-width": 1});
  
  
  sstBarTicks.forEach(v => {
    const yy = sstY(v);
    if (v < sstMax) {
      const tick = make("line", {x1: 2022, x2: 2030.5, y1: yy, y2: yy, stroke: "#222", "stroke-width": 1});
      
      
    }
    const t = make("text", {class: "big", x: 2044, y: v === sstMax ? yy + 12 : yy + 7});
    t.textContent = minus(v);
    
    
  });
})();

// ---- Panel e
(function () {
  const left = 1216.8, right = 1943.6, top = 745.7, bottom = 987;
  const y = v => bottom - (v + 1) / 6.47 * (bottom - top);
  const step = (right - left) / barCategories.length;
  const x = i => left + step * (i + 0.5);
  const barWidth = step * 0.5;
  barCategories.forEach((name, i) => {
    const tick = make("line", {x1: x(i), x2: x(i), y1: bottom, y2: bottom - 10, stroke: "#333", "stroke-width": 1});
    
    
    const v = barValues[i];
    const b = make("rect", {
      x: x(i) - barWidth / 2, y: Math.min(y(v), y(0)),
      width: barWidth, height: Math.abs(y(v) - y(0)),
      fill: barColors[i], stroke: "#333", "stroke-width": 1.5
    });
    
    
    const t = make("text", {class: "big", x: x(i), y: 1020, "text-anchor": "middle"});
    t.textContent = name;
    
    
  });
  const zero = make("line", {x1: left, x2: right, y1: y(0), y2: y(0), stroke: "#444", "stroke-width": 2});
  
  
  const frame = make("rect", {x: left, y: top, width: right - left, height: bottom - top, fill: "none", stroke: "#222", "stroke-width": 1.5});
  
  
  barTicks.forEach(v => {
    const tick = make("line", {x1: left, x2: left + 6, y1: y(v), y2: y(v), stroke: "#333", "stroke-width": 1});
    
    
    const t = make("text", {class: "big", x: 1203, y: y(v) + 9, "text-anchor": "end"});
    t.textContent = minus(v);
    
    
  });
})();
</script>
</body>
</html>
